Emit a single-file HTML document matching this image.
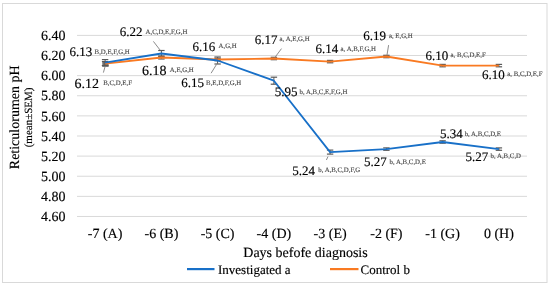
<!DOCTYPE html>
<html><head><meta charset="utf-8"><style>
html,body{margin:0;padding:0;background:#fff;}
svg{display:block;}
text{text-rendering:geometricPrecision;font-family:"Liberation Serif","Times New Roman",serif;fill:#000;stroke:#000;stroke-width:0.15px;}
.t{font-size:14px;}
.d{font-size:13px;}
.s{font-size:6.8px;fill:#4a4a4a;stroke:#4a4a4a;stroke-width:0.15px;}
.m{font-size:11px;}
.l{font-size:13px;}
</style></head><body>
<svg width="550" height="286" viewBox="0 0 550 286">
<rect x="0" y="0" width="550" height="286" fill="#fff"/>
<rect x="2.5" y="3.5" width="544.5" height="279" fill="none" stroke="#d9d9d9" stroke-width="1"/>
<line x1="77" y1="35.4" x2="527" y2="35.4" stroke="#d9d9d9" stroke-width="1"/>
<line x1="77" y1="55.52" x2="527" y2="55.52" stroke="#d9d9d9" stroke-width="1"/>
<line x1="77" y1="75.64" x2="527" y2="75.64" stroke="#d9d9d9" stroke-width="1"/>
<line x1="77" y1="95.76" x2="527" y2="95.76" stroke="#d9d9d9" stroke-width="1"/>
<line x1="77" y1="115.88" x2="527" y2="115.88" stroke="#d9d9d9" stroke-width="1"/>
<line x1="77" y1="136.0" x2="527" y2="136.0" stroke="#d9d9d9" stroke-width="1"/>
<line x1="77" y1="156.12" x2="527" y2="156.12" stroke="#d9d9d9" stroke-width="1"/>
<line x1="77" y1="176.24" x2="527" y2="176.24" stroke="#d9d9d9" stroke-width="1"/>
<line x1="77" y1="196.36" x2="527" y2="196.36" stroke="#d9d9d9" stroke-width="1"/>
<line x1="77" y1="216.48" x2="527" y2="216.48" stroke="#d9d9d9" stroke-width="1"/>
<text x="65.5" y="40.0" class="t" text-anchor="end">6.40</text>
<text x="65.5" y="60.1" class="t" text-anchor="end">6.20</text>
<text x="65.5" y="80.2" class="t" text-anchor="end">6.00</text>
<text x="65.5" y="100.4" class="t" text-anchor="end">5.80</text>
<text x="65.5" y="120.5" class="t" text-anchor="end">5.60</text>
<text x="65.5" y="140.6" class="t" text-anchor="end">5.40</text>
<text x="65.5" y="160.7" class="t" text-anchor="end">5.20</text>
<text x="65.5" y="180.8" class="t" text-anchor="end">5.00</text>
<text x="65.5" y="201.0" class="t" text-anchor="end">4.80</text>
<text x="65.5" y="221.1" class="t" text-anchor="end">4.60</text>
<text x="105.1" y="238.1" class="t" text-anchor="middle">-7 (A)</text>
<text x="161.4" y="238.1" class="t" text-anchor="middle">-6 (B)</text>
<text x="217.6" y="238.1" class="t" text-anchor="middle">-5 (C)</text>
<text x="273.9" y="238.1" class="t" text-anchor="middle">-4 (D)</text>
<text x="330.1" y="238.1" class="t" text-anchor="middle">-3 (E)</text>
<text x="386.4" y="238.1" class="t" text-anchor="middle">-2 (F)</text>
<text x="442.6" y="238.1" class="t" text-anchor="middle">-1 (G)</text>
<text x="498.9" y="238.1" class="t" text-anchor="middle">0 (H)</text>
<line x1="105.1" y1="61.6" x2="105.1" y2="65.6" stroke="#595959" stroke-width="1"/>
<line x1="101.9" y1="61.6" x2="108.3" y2="61.6" stroke="#595959" stroke-width="1.2"/>
<line x1="101.9" y1="65.6" x2="108.3" y2="65.6" stroke="#595959" stroke-width="1.2"/>
<line x1="161.4" y1="56.0" x2="161.4" y2="59.0" stroke="#595959" stroke-width="1"/>
<line x1="158.2" y1="56.0" x2="164.6" y2="56.0" stroke="#595959" stroke-width="1.2"/>
<line x1="158.2" y1="59.0" x2="164.6" y2="59.0" stroke="#595959" stroke-width="1.2"/>
<line x1="217.6" y1="58.3" x2="217.6" y2="60.7" stroke="#595959" stroke-width="1"/>
<line x1="214.4" y1="58.3" x2="220.8" y2="58.3" stroke="#595959" stroke-width="1.2"/>
<line x1="214.4" y1="60.7" x2="220.8" y2="60.7" stroke="#595959" stroke-width="1.2"/>
<line x1="273.9" y1="57.3" x2="273.9" y2="59.7" stroke="#595959" stroke-width="1"/>
<line x1="270.7" y1="57.3" x2="277.1" y2="57.3" stroke="#595959" stroke-width="1.2"/>
<line x1="270.7" y1="59.7" x2="277.1" y2="59.7" stroke="#595959" stroke-width="1.2"/>
<line x1="330.1" y1="60.4" x2="330.1" y2="62.8" stroke="#595959" stroke-width="1"/>
<line x1="326.9" y1="60.4" x2="333.3" y2="60.4" stroke="#595959" stroke-width="1.2"/>
<line x1="326.9" y1="62.8" x2="333.3" y2="62.8" stroke="#595959" stroke-width="1.2"/>
<line x1="386.4" y1="55.3" x2="386.4" y2="57.7" stroke="#595959" stroke-width="1"/>
<line x1="383.2" y1="55.3" x2="389.6" y2="55.3" stroke="#595959" stroke-width="1.2"/>
<line x1="383.2" y1="57.7" x2="389.6" y2="57.7" stroke="#595959" stroke-width="1.2"/>
<line x1="442.6" y1="64.4" x2="442.6" y2="66.8" stroke="#595959" stroke-width="1"/>
<line x1="439.4" y1="64.4" x2="445.8" y2="64.4" stroke="#595959" stroke-width="1.2"/>
<line x1="439.4" y1="66.8" x2="445.8" y2="66.8" stroke="#595959" stroke-width="1.2"/>
<line x1="498.9" y1="64.4" x2="498.9" y2="66.8" stroke="#595959" stroke-width="1"/>
<line x1="495.7" y1="64.4" x2="502.1" y2="64.4" stroke="#595959" stroke-width="1.2"/>
<line x1="495.7" y1="66.8" x2="502.1" y2="66.8" stroke="#595959" stroke-width="1.2"/>
<line x1="105.1" y1="59.6" x2="105.1" y2="65.6" stroke="#595959" stroke-width="1"/>
<line x1="101.9" y1="59.6" x2="108.3" y2="59.6" stroke="#595959" stroke-width="1.2"/>
<line x1="101.9" y1="65.6" x2="108.3" y2="65.6" stroke="#595959" stroke-width="1.2"/>
<line x1="161.4" y1="50.5" x2="161.4" y2="56.5" stroke="#595959" stroke-width="1"/>
<line x1="158.2" y1="50.5" x2="164.6" y2="50.5" stroke="#595959" stroke-width="1.2"/>
<line x1="158.2" y1="56.5" x2="164.6" y2="56.5" stroke="#595959" stroke-width="1.2"/>
<line x1="217.6" y1="57.0" x2="217.6" y2="64.0" stroke="#595959" stroke-width="1"/>
<line x1="214.4" y1="57.0" x2="220.8" y2="57.0" stroke="#595959" stroke-width="1.2"/>
<line x1="214.4" y1="64.0" x2="220.8" y2="64.0" stroke="#595959" stroke-width="1.2"/>
<line x1="273.9" y1="77.2" x2="273.9" y2="84.2" stroke="#595959" stroke-width="1"/>
<line x1="270.7" y1="77.2" x2="277.1" y2="77.2" stroke="#595959" stroke-width="1.2"/>
<line x1="270.7" y1="84.2" x2="277.1" y2="84.2" stroke="#595959" stroke-width="1.2"/>
<line x1="330.1" y1="150.1" x2="330.1" y2="154.1" stroke="#595959" stroke-width="1"/>
<line x1="326.9" y1="150.1" x2="333.3" y2="150.1" stroke="#595959" stroke-width="1.2"/>
<line x1="326.9" y1="154.1" x2="333.3" y2="154.1" stroke="#595959" stroke-width="1.2"/>
<line x1="386.4" y1="147.9" x2="386.4" y2="150.3" stroke="#595959" stroke-width="1"/>
<line x1="383.2" y1="147.9" x2="389.6" y2="147.9" stroke="#595959" stroke-width="1.2"/>
<line x1="383.2" y1="150.3" x2="389.6" y2="150.3" stroke="#595959" stroke-width="1.2"/>
<line x1="442.6" y1="140.8" x2="442.6" y2="143.2" stroke="#595959" stroke-width="1"/>
<line x1="439.4" y1="140.8" x2="445.8" y2="140.8" stroke="#595959" stroke-width="1.2"/>
<line x1="439.4" y1="143.2" x2="445.8" y2="143.2" stroke="#595959" stroke-width="1.2"/>
<line x1="498.9" y1="147.9" x2="498.9" y2="150.3" stroke="#595959" stroke-width="1"/>
<line x1="495.7" y1="147.9" x2="502.1" y2="147.9" stroke="#595959" stroke-width="1.2"/>
<line x1="495.7" y1="150.3" x2="502.1" y2="150.3" stroke="#595959" stroke-width="1.2"/>
<rect x="102.3" y="62" width="6.3" height="4.8" fill="#595959" opacity="0.85"/>
<polyline points="105.1,63.6 161.4,57.5 217.6,59.5 273.9,58.5 330.1,61.6 386.4,56.5 442.6,65.6 498.9,65.6" fill="none" stroke="#f97a22" stroke-width="1.8" stroke-linejoin="round" stroke-linecap="butt"/>
<polyline points="105.1,62.6 161.4,53.5 217.6,60.5 273.9,80.7 330.1,152.1 386.4,149.1 442.6,142.0 498.9,149.1" fill="none" stroke="#1870c8" stroke-width="1.8" stroke-linejoin="round" stroke-linecap="butt"/>
<text transform="translate(69.6,56.3) scale(1.0,1)" class="d" style="font-size:13px">6.13</text>
<text x="94.6" y="53.8" class="s">B,D,E,F,G,H</text>
<text transform="translate(119.8,36.4) scale(1.0,1)" class="d" style="font-size:13px">6.22</text>
<text x="145.6" y="33.9" class="s">A,C,D,E,F,G,H</text>
<text transform="translate(74.6,87.9) scale(1.0,1)" class="d" style="font-size:14px">6.12</text>
<text x="103.3" y="85.4" class="s">B,C,D,E,F</text>
<text transform="translate(141.9,74.5) scale(1.0,1)" class="d" style="font-size:14px">6.18</text>
<text x="169.8" y="72.0" class="s">A,E,G,H</text>
<text transform="translate(192.6,50.9) scale(1.0,1)" class="d" style="font-size:13px">6.16</text>
<text x="218.6" y="48.4" class="s">A,G,H</text>
<text transform="translate(181.2,87.2) scale(1.0,1)" class="d" style="font-size:13px">6.15</text>
<text x="206.1" y="84.7" class="s">B,E,D,F,G,H</text>
<text transform="translate(254.8,43.6) scale(1.0,1)" class="d" style="font-size:13px">6.17</text>
<text x="279.6" y="41.1" class="s">a, A,E,G,H</text>
<text transform="translate(274.8,96.1) scale(1.0,1)" class="d" style="font-size:13px">5.95</text>
<text x="299.6" y="93.6" class="s">b, A,B,C,E,F,G,H</text>
<text transform="translate(315.5,53.3) scale(1.0,1)" class="d" style="font-size:13px">6.14</text>
<text x="340.6" y="50.8" class="s">a, A,B,F,G,H</text>
<text transform="translate(292.3,174.9) scale(1.0,1)" class="d" style="font-size:13px">5.24</text>
<text x="318.3" y="172.4" class="s">b, A,B,C,D,F,G</text>
<text transform="translate(363.3,40.4) scale(1.0,1)" class="d" style="font-size:13px">6.19</text>
<text x="388.9" y="37.9" class="s">a, E,G,H</text>
<text transform="translate(364.1,166.2) scale(1.0,1)" class="d" style="font-size:13px">5.27</text>
<text x="389.6" y="163.7" class="s">b, A,B,C,D,E</text>
<text transform="translate(425.5,59.9) scale(1.0,1)" class="d" style="font-size:13px">6.10</text>
<text x="450.6" y="57.4" class="s">a, B,C,D,E,F</text>
<text transform="translate(439.9,138.4) scale(1.0,1)" class="d" style="font-size:13px">5.34</text>
<text x="464.7" y="135.9" class="s">b, A,B,C,D,E</text>
<text transform="translate(482.1,78.9) scale(1.0,1)" class="d" style="font-size:13px">6.10</text>
<text x="507.3" y="76.4" class="s">a, B,C,D,E,F</text>
<text transform="translate(465.5,160.9) scale(1.0,1)" class="d" style="font-size:13px">5.27</text>
<text x="490.6" y="158.4" class="s">b, A,B,C,D</text>
<line x1="105" y1="66.8" x2="103.4" y2="72.6" stroke="#8c8c8c" stroke-width="1"/>
<line x1="153.4" y1="41.4" x2="160.2" y2="50.2" stroke="#8c8c8c" stroke-width="1"/>
<line x1="217.1" y1="63.5" x2="211.1" y2="73.2" stroke="#8c8c8c" stroke-width="1"/>
<line x1="281.5" y1="48.6" x2="275" y2="57.3" stroke="#8c8c8c" stroke-width="1"/>
<line x1="388.6" y1="45.1" x2="387" y2="55" stroke="#8c8c8c" stroke-width="1"/>
<line x1="328" y1="156.5" x2="326.4" y2="160" stroke="#8c8c8c" stroke-width="1"/>
<text x="305.5" y="257.3" class="t" text-anchor="middle">Days befofe diagnosis</text>
<text transform="translate(18.5,117.3) rotate(-90)" class="t" text-anchor="middle">Reticulorumen pH</text>
<text transform="translate(32.4,117.4) rotate(-90)" class="m" text-anchor="middle">(mean±SEM)</text>
<line x1="187" y1="269.1" x2="214.5" y2="269.1" stroke="#1870c8" stroke-width="2.2"/>
<text x="218" y="273.6" class="l">Investigated a</text>
<line x1="330" y1="269.1" x2="358.5" y2="269.1" stroke="#f97a22" stroke-width="2.2"/>
<text x="360.5" y="273.6" class="l">Control b</text>
</svg>
</body></html>
